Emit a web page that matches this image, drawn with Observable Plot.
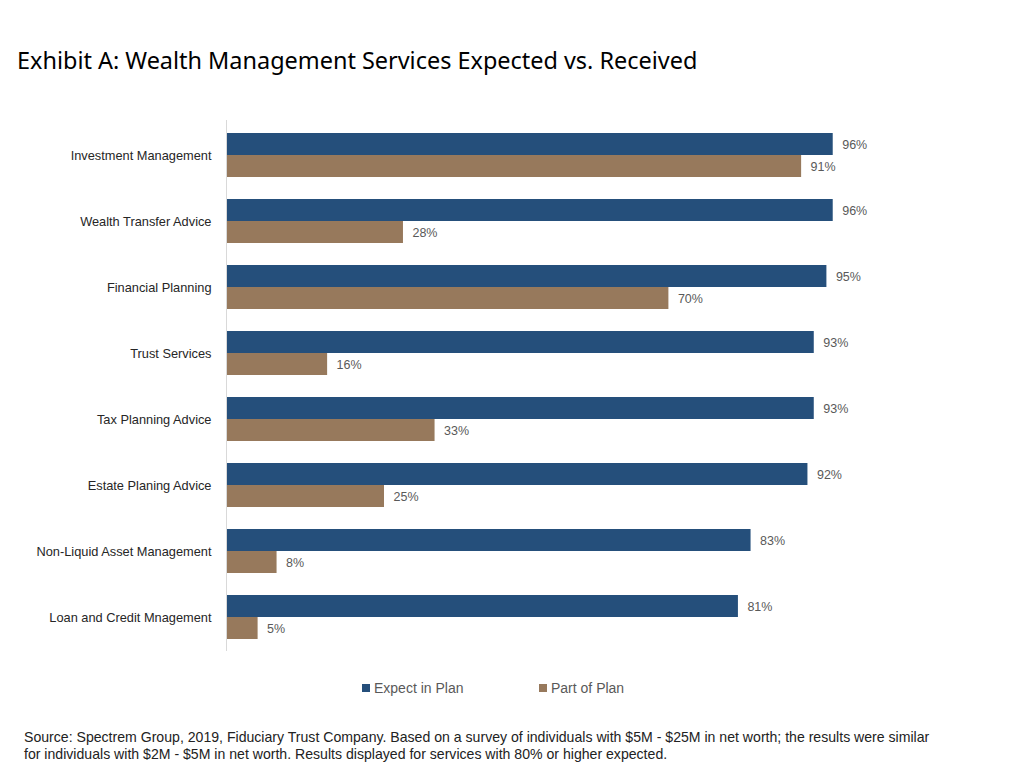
<!DOCTYPE html>
<html>
<head>
<meta charset="utf-8">
<script src="https://cdn.jsdelivr.net/npm/d3@7"></script>
<script src="https://cdn.jsdelivr.net/npm/@observablehq/plot@0.6"></script>
<style>
  html, body { margin: 0; padding: 0; background: #fff; }
  body { width: 1024px; height: 773px; position: relative; overflow: hidden; }
  #title { position: absolute; left: 17px; top: 44px; font-family: "Noto Sans", "Open Sans", sans-serif; font-size: 23.45px; color: #000; white-space: nowrap; }
  #chart { position: absolute; left: 0; top: 98px; }
  #legend { position: absolute; top: 680px; left: 0; width: 1024px; font-family: "Liberation Sans", Arial, sans-serif; font-size: 14px; color: #595959; }
  .li { position: absolute; display: flex; align-items: center; white-space: nowrap; }
  .sw { width: 8px; height: 8px; margin-right: 4px; }
  #source { position: absolute; left: 24px; top: 729px; width: 970px; font-family: "Liberation Sans", Arial, sans-serif; font-size: 14.1px; line-height: 17px; color: #222; }
</style>
</head>
<body>
<div id="title">Exhibit A: Wealth Management Services Expected vs. Received</div>
<div id="chart"></div>
<div id="legend"></div>
<div id="source">Source: Spectrem Group, 2019, Fiduciary Trust Company. Based on a survey of individuals with $5M - $25M in net worth; the results were similar<br>for individuals with $2M - $5M in net worth. Results displayed for services with 80% or higher expected.</div>
<script>
const categories = [
  "Investment Management",
  "Wealth Transfer Advice",
  "Financial Planning",
  "Trust Services",
  "Tax Planning Advice",
  "Estate Planing Advice",
  "Non-Liquid Asset Management",
  "Loan and Credit Mnagement"
];
const expectInPlan = [96, 96, 95, 93, 93, 92, 83, 81];
const partOfPlan = [91, 28, 70, 16, 33, 25, 8, 5];
const seriesNames = ["Expect in Plan", "Part of Plan"];
const seriesColors = ["#254F7B", "#97795C"];

const expData = categories.map((c, i) => ({category: c, value: expectInPlan[i]}));
const partData = categories.map((c, i) => ({category: c, value: partOfPlan[i]}));

const chart = Plot.plot({
  width: 1024,
  height: 572,
  marginLeft: 226,
  marginRight: 166,
  marginTop: 22,
  marginBottom: 19,
  style: {fontFamily: "'Liberation Sans', Arial, sans-serif", background: "#fff"},
  x: {domain: [0, 100], axis: null},
  y: {domain: categories, paddingInner: 0.337, paddingOuter: 0.1685, label: null},
  marks: [
    Plot.barX(expData, {x: "value", y: "category", fill: seriesColors[0], insetBottom: 22}),
    Plot.barX(partData, {x: "value", y: "category", fill: seriesColors[1], insetTop: 22}),
    Plot.ruleX([0], {stroke: "#d9d9d9", strokeWidth: 1}),
    Plot.text(expData, {x: "value", y: "category", dy: -11, dx: 9, textAnchor: "start", text: d => d.value + "%", fill: "#595959", fontSize: 12.5}),
    Plot.text(partData, {x: "value", y: "category", dy: 11, dx: 9, textAnchor: "start", text: d => d.value + "%", fill: "#595959", fontSize: 12.5}),
    Plot.axisY({tickSize: 0, tickPadding: 15, fontSize: 12.8, fill: "#262626", label: null})
  ]
});
document.getElementById("chart").appendChild(chart);

const legend = document.getElementById("legend");
const legendX = [362, 539];
seriesNames.forEach((name, i) => {
  const item = document.createElement("div");
  item.className = "li";
  item.style.left = legendX[i] + "px";
  const sw = document.createElement("span");
  sw.className = "sw";
  sw.style.background = seriesColors[i];
  const t = document.createElement("span");
  t.textContent = name;
  item.appendChild(sw);
  item.appendChild(t);
  legend.appendChild(item);
});
</script>
</body>
</html>
